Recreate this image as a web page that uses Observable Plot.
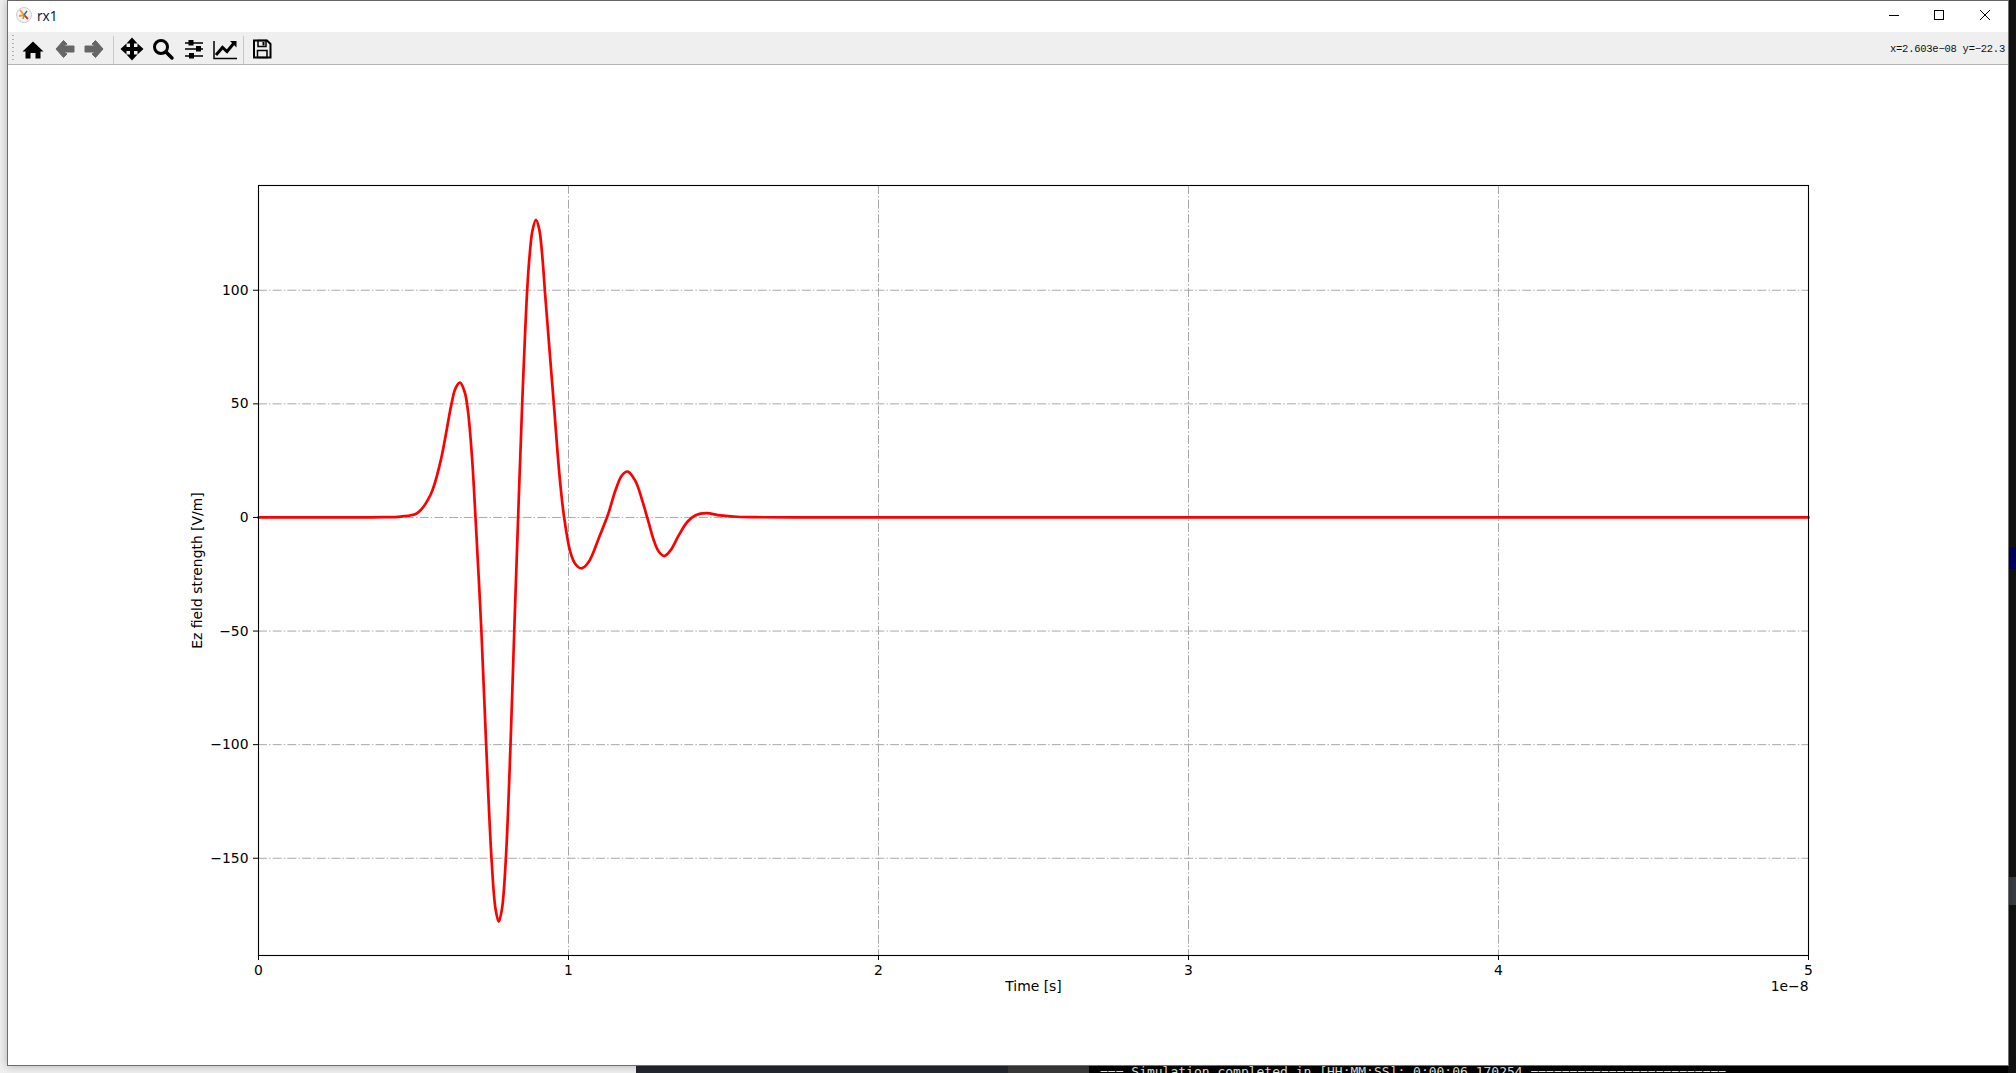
<!DOCTYPE html>
<html>
<head>
<meta charset="utf-8">
<script src="https://cdn.jsdelivr.net/npm/d3@7"></script>
<script src="https://cdn.jsdelivr.net/npm/@observablehq/plot@0.6"></script>
<style>
html,body{margin:0;padding:0;width:2016px;height:1073px;overflow:hidden;background:#f0f0f0;font-family:"DejaVu Sans",sans-serif}
.abs{position:absolute}
#win{left:7px;top:0;width:2000px;height:1064px;background:#fff;border:1px solid #6e6e6e;border-top-color:#666;box-sizing:content-box;box-shadow:0 0 9px rgba(0,0,0,.28)}
#toolbar{left:8px;top:32px;width:2000px;height:32px;background:#efefef;border-bottom:1px solid #b4b4b4}
#chart{left:0;top:0;width:2016px;height:1073px}
#chart svg{display:block;background:transparent}
.sep{width:1px;height:28px;top:36px;background:#c8c8c8}
</style>
</head>
<body>
<div class="abs" style="left:636px;top:1065px;width:372px;height:8px;background:#23262e"></div>
<div class="abs" style="left:1008px;top:1065px;width:81px;height:8px;background:#3a3a3a"></div>
<div class="abs" style="left:1089px;top:1065px;width:927px;height:8px;background:#000;color:#dfe6d8;font:13px 'DejaVu Sans Mono',monospace;line-height:13px;white-space:pre;overflow:hidden;padding-left:11px;box-sizing:border-box">=== Simulation completed in [HH:MM:SS]: 0:00:06.170254 =========================</div>
<div class="abs" style="left:2008px;top:0;width:8px;height:1073px;background:#121212"></div>
<div class="abs" style="left:2008px;top:547px;width:8px;height:22px;background:#00005f"></div>
<div class="abs" style="left:2008px;top:877px;width:8px;height:28px;background:#3a3d42"></div>
<div class="abs" id="win"></div>
<div class="abs" style="left:16px;top:7px;width:16px;height:16px;border-radius:50%;background:#f4f4f4;border:1px solid #ccc;box-sizing:border-box">
<svg width="14" height="14" viewBox="0 0 14 14" style="display:block"><path d="M3 2L7 7L2 8" fill="none" stroke="#f0a020" stroke-width="2"/><path d="M7 7L11 11" stroke="#d04020" stroke-width="2"/><path d="M7 7L10 3" stroke="#3a60a0" stroke-width="1.4"/><path d="M7 7L6 11" stroke="#70b050" stroke-width="1.4"/></svg></div>
<div class="abs" style="left:37px;top:8px;font:13.5px 'Noto Sans',sans-serif;color:#102040;line-height:16px">rx1</div>
<svg class="abs" style="left:1880px;top:6px" width="120" height="20" viewBox="0 0 120 20">
<path d="M9 9.500H19" stroke="#000" stroke-width="1"/>
<rect x="54.500" y="4.500" width="9" height="9" fill="none" stroke="#000"/>
<path d="M100 4L110 14M110 4L100 14" stroke="#000" stroke-width="1"/>
</svg>
<div class="abs" id="toolbar"></div>
<svg class="abs" style="left:10px;top:34px" width="6" height="30"><g fill="#b0b0b0"><rect x="2" y="1" width="2" height="1"/><rect x="2" y="5" width="2" height="1"/><rect x="2" y="9" width="2" height="1"/><rect x="2" y="13" width="2" height="1"/><rect x="2" y="17" width="2" height="1"/><rect x="2" y="21" width="2" height="1"/><rect x="2" y="25" width="2" height="1"/></g></svg>
<div class="abs sep" style="left:113px"></div>
<div class="abs sep" style="left:243px"></div>
<svg class="abs" style="left:0;top:32px" width="300" height="32" viewBox="0 0 300 32">
<path d="M33 9.500L43.500 19.500H40.500V26.500H35.500V21H30.500V26.500H25.500V19.500H22.500Z" fill="#000"/>
<path d="M56 17L63.500 8.500L67 12L63.500 14H74V20H63.500L67 22L63.500 25.500Z" fill="#666" stroke="#666" stroke-width="1" stroke-linejoin="round"/>
<path d="M103 17L95.500 8.500L92 12L95.500 14H85V20H95.500L92 22L95.500 25.500Z" fill="#666" stroke="#666" stroke-width="1" stroke-linejoin="round"/>
<path d="M132 5.500L137.500 11.500H134V15H137.500V11.500L143.500 17L137.500 22.500V19H134V22.500H137.500L132 28.500L126.500 22.500H130V19H126.500V22.500L120.500 17L126.500 11.500V15H130V11.500H126.500Z" fill="#000"/>
<circle cx="161" cy="15" r="6.500" fill="none" stroke="#000" stroke-width="3"/>
<path d="M166 20L172 26" stroke="#000" stroke-width="3.500" stroke-linecap="round"/>
<g stroke="#000" stroke-width="1.500"><path d="M185 11H203M185 17H203M185 24H203"/></g>
<g fill="#000"><rect x="188.500" y="8" width="5" height="5.500"/><rect x="196" y="14" width="5" height="5.500"/><rect x="189" y="21" width="5" height="5.500"/></g>
<path d="M214 9V26.500H237" fill="none" stroke="#000" stroke-width="1.500"/>
<path d="M216 23L222.500 15.500L227 19.500L234 11" fill="none" stroke="#000" stroke-width="3"/>
<path d="M230 9H236.500V15.500Z" fill="#000"/>
<path d="M254 8.500H267L270.500 12V25.500H254Z" fill="none" stroke="#000" stroke-width="2"/>
<rect x="258" y="8.500" width="8" height="6" fill="none" stroke="#000" stroke-width="1.500"/>
<rect x="257.500" y="18.500" width="9.500" height="7" fill="none" stroke="#000" stroke-width="1.500"/>
<rect x="262.500" y="10" width="2" height="3.500" fill="#000"/>
</svg>
<div class="abs" style="left:1890px;top:41px;font:10.5px 'Liberation Mono',monospace;letter-spacing:-0.25px;line-height:16px;color:#111;white-space:pre">x=2.603e−08 y=−22.3</div>
<div class="abs" id="chart"></div>
<script>
const timeUnits = [0,0.2,0.4,0.458,0.512,0.555,0.587,0.6226,0.6355,0.65,0.6655,0.6764,0.689,0.70,0.719,0.7344,0.7516,0.7645,0.775,0.7855,0.798,0.813,0.825,0.8375,0.8506,0.8667,0.875,0.884,0.895,0.9054,0.917,0.9236,0.9527,0.972,0.986,1.0065,1.0226,1.042,1.0656,1.098,1.128,1.1516,1.173,1.191,1.216,1.238,1.256,1.275,1.291,1.309,1.329,1.356,1.383,1.41,1.444,1.49,1.544,1.6,1.8,2,3,4,5];
const ezField =   [0,0,0.1,0.4,1.9,10,24.6,50,56.8,59.3,55,46,26,0,-50,-100,-150,-172.2,-177.9,-172.2,-150,-100,-50,0,50,100,116,126.4,131,127,112.5,100,50,17,0,-15.5,-20.6,-22.4,-19.5,-9,1.5,12,18.6,20.2,16,7.4,-1,-10,-15,-17,-14.5,-7.8,-2,1,1.9,0.9,0.3,0.1,0,0,0,0,0];
const xTicks = [0,1,2,3,4,5];
const yTicks = [-150,-100,-50,0,50,100];
const xTitle = "Time [s]";
const yTitle = "Ez field strength [V/m]";
const offsetText = "1e−8";

const series = timeUnits.map((t,i)=>({t, v:ezField[i]}));
const gridStyle = {stroke:"#a8a8a8", strokeWidth:1, strokeDasharray:"8.9,2.2,1.4,2.2"};
const chart = Plot.plot({
  width:2016, height:1073,
  marginLeft:258, marginRight:208, marginTop:185, marginBottom:118,
  style:{background:"transparent", fontFamily:"'DejaVu Sans',sans-serif", fontSize:"13.9px", color:"#000", overflow:"visible"},
  x:{domain:[0,5], range:[258,1808]},
  y:{domain:[-192.8,146.1], range:[955,185]},
  marks:[
    Plot.ruleX(xTicks.slice(1,-1), gridStyle),
    Plot.ruleY(yTicks, gridStyle),
    Plot.line(series,{x:"t",y:"v",stroke:"#ff0000",strokeWidth:2.7,curve:"catmull-rom"}),
    Plot.frame({stroke:"#000",strokeWidth:1.1}),
    Plot.axisX({ticks:xTicks,tickFormat:d=>String(d),tickSize:5,tickPadding:5,label:null,fontSize:13.9,stroke:"#000",fill:"#000"}),
    Plot.axisY({ticks:yTicks,tickFormat:d=>String(d).replace("-","−"),tickSize:5,tickPadding:5,label:null,fontSize:13.9,stroke:"#000",fill:"#000"}),
    Plot.text([xTitle],{frameAnchor:"bottom",dy:35,fontSize:13.9,fill:"#000"}),
    Plot.text([offsetText],{frameAnchor:"bottom-right",textAnchor:"end",dy:35,fontSize:13.9,fill:"#000"}),
    Plot.text([yTitle],{frameAnchor:"left",textAnchor:"middle",rotate:-90,dx:-61,fontSize:13.9,fill:"#000"})
  ]
});
document.getElementById("chart").appendChild(chart);
</script>
</body>
</html>
